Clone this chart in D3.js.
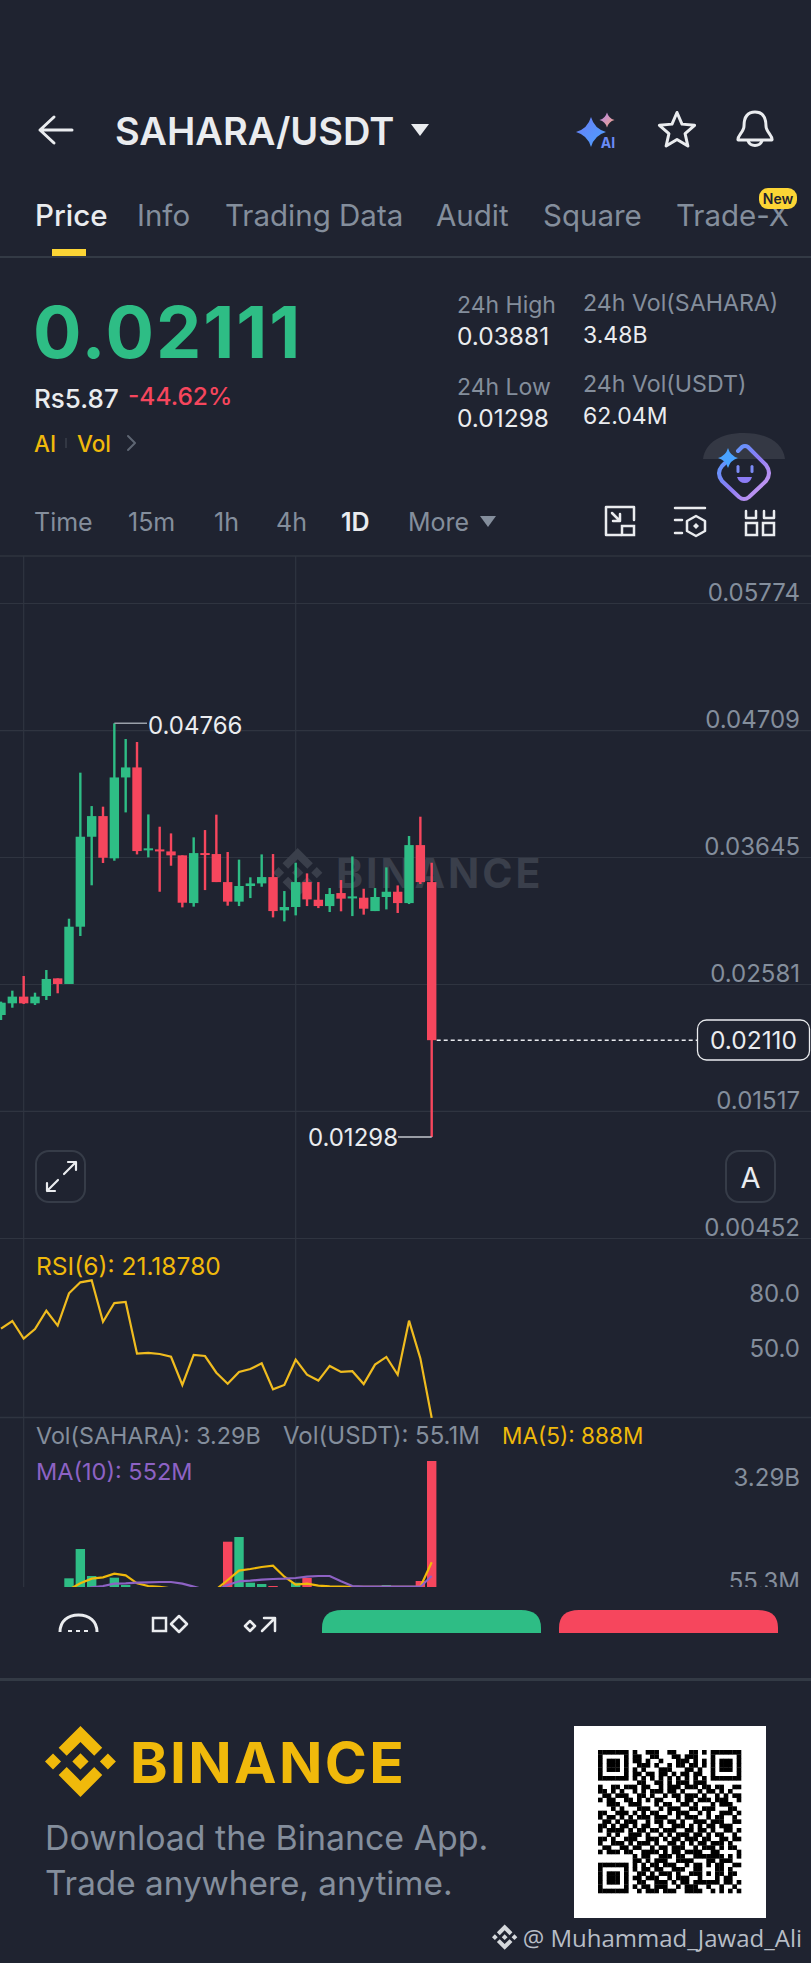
<!DOCTYPE html>
<html>
<head>
<meta charset="utf-8">
<script src="https://cdn.jsdelivr.net/npm/d3@7"></script>
<style>
html, body { margin: 0; padding: 0; background: #1f2330; }
svg { display: block; }
text { font-family: Inter, "Noto Sans", sans-serif; }
</style>
</head>
<body>
<script>
// candles, oldest first
let open = [.02321,.02419,.02475,.02419,.02480,.02628,.02581,.03061,.03815,.03988,.03634,.04312,.04396,.03701,.03709,.03692,.03659,.03259,.03678,.03670,.03435,.03271,.03402,.03424,.03477,.03198,.03226,.03435,.03287,.03234,.03343,.03298,.03304,.03192,.03310,.03354,.03259,.03745,.03435]
let high = [.02433,.02525,.02648,.02508,.02698,.02628,.03128,.04352,.04072,.04067,.04766,.04634,.04609,.04002,.03899,.03843,.03659,.03810,.03871,.04000,.03687,.03623,.03475,.03667,.03670,.03360,.03597,.03508,.03435,.03385,.03452,.03650,.03379,.03385,.03558,.03407,.03821,.03983,.03597]
let low = [.02279,.02382,.02413,.02405,.02447,.02503,.02581,.02983,.03408,.03595,.03614,.04019,.03667,.03642,.03354,.03572,.03223,.03229,.03368,.03435,.03237,.03234,.03301,.03396,.03139,.03106,.03156,.03234,.03217,.03184,.03190,.03150,.03162,.03192,.03206,.03176,.03251,.03419,.01298]
let close = [.02424,.02475,.02419,.02475,.02623,.02581,.03061,.03815,.03988,.03639,.04312,.04396,.03695,.03718,.03692,.03659,.03262,.03678,.03662,.03435,.03271,.03402,.03424,.03477,.03192,.03226,.03435,.03290,.03234,.03335,.03296,.03315,.03212,.03310,.03354,.03259,.03745,.03435,.02110]

let rsi = [69.8,74.0,64.4,69.6,79.6,71.5,89.1,95.1,96.2,73.6,83.8,84.4,56.2,56.6,56.0,54.5,39.1,55.5,54.9,45.8,39.8,46.2,47.8,50.9,36.7,39.1,52.9,44.7,41.5,49.5,46.2,46.6,39.6,50.2,54.4,44.7,74.2,53.6,21.18]

// volume and its moving averages, in millions
let volume = [40,40,40,40,40,40,343,1078,401,60,359,175,60,50,50,50,50,50,50,60,1261,1379,233,200,150,60,233,351,50,50,50,50,50,50,175,50,150,276,3285]
let ma5 = [40,40,40,40,40,40,60,217,334,368,460,418,217,150,130,90,60,60,60,67,301,535,577,627,660,384,184,209,159,140,135,130,130,130,130,130,130,130,744]
let ma10 = [40,40,40,40,40,40,40,40,118,150,209,217,234,242,251,251,209,134,60,50,176,268,284,309,326,334,351,384,401,401,268,150,133,133,133,133,133,133,401]

let priceTicks = [.05774,.04709,.03645,.02581,.01517,.00452]
let rsiTicks = [80,50]
let volTicks = [3285,55.3]
let volTickLabels = ['3.29B','55.3M']
let gridCandles = [2,26]

let tabs = ['Price','Info','Trading Data','Audit','Square','Trade-X']
let tabX = [35,137,225,436,543,676]
let intervals = ['Time','15m','1h','4h','1D','More']
let intervalX = [34,128,214,276,341,408]

// QR modules as printed, 1 is black
let qrRows = [
  '111111101001110011000110101111111',
  '100000101100110001101110001000001',
  '101110101101001000111010101011101',
  '101110100111010010110110101011101',
  '101110101010001110001101001011101',
  '100000101101101101011011001000001',
  '111111101010101010101010101111111',
  '000000000110011010111011100000000',
  '100110111011001011101110110110011',
  '110101001010111011010001011010100',
  '011011100110100101101110100101011',
  '101100110101011000101101110111001',
  '001110011100010110011010001011100',
  '000101000111001011100110111000110',
  '110011101010110010111001010011101',
  '101101010111011100101110010110010',
  '011010111001011011010011101110011',
  '110101101011001001110101011011100',
  '101111010110110111001101101001101',
  '001010011101001010111011010110010',
  '110100111001110101101110110011011',
  '100111010111010011010101101110100',
  '011001101100101101110010111010110',
  '101110110011110101101111001100001',
  '000000001011001110110011111110101',
  '000000001101011100111100011011100',
  '111111101010110111001011010110011',
  '100000101011011001110011000110100',
  '101110100110101110100111010110110',
  '101110101101110010111001000101100',
  '101110100110011101011011111101101',
  '100000101011011100101110010010010',
  '111111100101110111001111001010101'
]

let bg = '#1f2330'
let green = '#2ebd85'
let red = '#f6465d'
let yellow = '#f0b90b'
let purple = '#8d62c4'
let grey = '#848e9c'
let white = '#eaecef'
let gridColor = '#2f3440'
let logoPath = 'M38.73 53.2l24.59-24.58 24.6 24.6 14.3-14.31L63.32 0 24.42 38.9z M0 63.31l14.3-14.31 14.31 14.31-14.31 14.3z M38.73 73.41l24.59 24.59 24.6-24.6 14.31 14.29-38.9 38.91-38.91-38.88-.02-.02z M98 63.32l14.3-14.31 14.31 14.3-14.31 14.31z M77.83 63.3L63.32 48.78 52.59 59.51l-1.24 1.23-2.54 2.54 14.51 14.5 14.51-14.47z'

let svg = d3.select('body').append('svg')
    .attr('width', 811)
    .attr('height', 1963)
svg.append('rect').attr('width', 811).attr('height', 1963).attr('fill', bg)

let defs = svg.append('defs')
defs.append('clipPath').attr('id', 'rsiClip').append('rect')
    .attr('x', 0).attr('y', 1238).attr('width', 811).attr('height', 180)
defs.append('clipPath').attr('id', 'volClip').append('rect')
    .attr('x', 0).attr('y', 1418).attr('width', 811).attr('height', 169)

function gradient(id, stops) {
    let g = defs.append('linearGradient').attr('id', id)
        .attr('x1', 0).attr('y1', 0).attr('x2', 1).attr('y2', 1)
    stops.forEach((c, i) => g.append('stop')
        .attr('offset', i / (stops.length - 1)).attr('stop-color', c))
}
gradient('sparkBlue', ['#6b7cf6', '#4aa3ff'])
gradient('sparkPink', ['#b184f0', '#f5a97f'])
gradient('robot', ['#4aa3ff', '#8c7cf5', '#d9a0ee'])

function label(x, y, text, size, fill, weight, anchor) {
    return svg.append('text')
        .attr('x', x).attr('y', y)
        .attr('dominant-baseline', 'central')
        .attr('font-size', size)
        .attr('font-weight', weight || 400)
        .attr('text-anchor', anchor || 'start')
        .attr('fill', fill)
        .text(text)
}

function outline(d, color, width) {
    return svg.append('path').attr('d', d)
        .attr('fill', 'none')
        .attr('stroke', color || white)
        .attr('stroke-width', width || 3)
        .attr('stroke-linecap', 'round')
        .attr('stroke-linejoin', 'round')
}

function solid(d, color) {
    return svg.append('path').attr('d', d).attr('fill', color)
}

function sparkle(cx, cy, r) {
    let k = r * 0.22
    return `M${cx} ${cy - r}Q${cx + k} ${cy - k} ${cx + r} ${cy}Q${cx + k} ${cy + k} ${cx} ${cy + r}Q${cx - k} ${cy + k} ${cx - r} ${cy}Q${cx - k} ${cy - k} ${cx} ${cy - r}Z`
}

function diamond(cx, cy, r) {
    return `M${cx} ${cy - r}L${cx + r} ${cy}L${cx} ${cy + r}L${cx - r} ${cy}Z`
}

function drawHeader() {
    outline('M54 117L40 130L54 143M40 130H72', white, 3)
    label(115, 131, 'SAHARA/USDT', 38, white, 600)
    solid('M411 124H429L420 136Z', white)

    solid(sparkle(591, 132, 15), 'url(#sparkBlue)')
    solid(sparkle(607, 120, 7.5), 'url(#sparkPink)')
    label(608, 142, 'AI', 14, '#6b8cf6', 700, 'middle')

    let star = d3.lineRadial().curve(d3.curveLinearClosed)(
        d3.range(10).map(i => [i * Math.PI / 5, i % 2 ? 8.5 : 18.5]))
    outline(star, white, 3).attr('transform', 'translate(677,131)')
    outline('M755 112C746 112 744 119 744 126C744 132 737 136 738 140H772C773 136 766 132 766 126C766 119 764 112 755 112Z M748 141A7.5 7 0 0 0 762 141', white, 3)

    tabs.forEach((t, i) => label(tabX[i], 215, t, 29.5, i == 0 ? white : grey, i == 0 ? 500 : 400))
    svg.append('rect').attr('x', 0).attr('y', 256).attr('width', 811).attr('height', 2).attr('fill', '#333a45')
    svg.append('rect').attr('x', 52).attr('y', 249).attr('width', 34).attr('height', 7).attr('fill', '#fcd535')
    svg.append('rect').attr('x', 759).attr('y', 188).attr('width', 38).attr('height', 21).attr('rx', 9).attr('fill', '#fcd535')
    label(778, 198.5, 'New', 14, '#1f2330', 600, 'middle')
}

function drawTicker() {
    label(33, 331, '0.02111', 72, green, 700).attr('letter-spacing', 2)
    label(34, 398, 'Rs5.87', 26, white, 500)
    label(128, 396, '-44.62%', 24.5, red, 500)
    label(34, 443, 'AI', 22.5, yellow, 500)
    svg.append('rect').attr('x', 65.5).attr('y', 438).attr('width', 1).attr('height', 10).attr('fill', '#474d57')
    label(77, 443, 'Vol', 22.5, yellow, 500)
    outline('M128 436L135 443L128 450', '#5e6673', 2)

    label(457, 305, '24h High', 23, grey)
    label(457, 336, '0.03881', 24.5, white)
    label(583, 303, '24h Vol(SAHARA)', 23.2, grey)
    label(583, 335, '3.48B', 23, white)
    label(457, 387, '24h Low', 23, grey)
    label(457, 418, '0.01298', 24.5, white)
    label(583, 384, '24h Vol(USDT)', 23.2, grey)
    label(583, 416, '62.04M', 23, white)

    // robot button
    solid('M703 459C705 443 720 433 744 433C768 433 783 443 785 459Z', '#343844')
    outline('M738 451L742 447Q745 445 748 447L766 465Q772 473 766 481L749 497Q744 501 739 497L722 481Q716 473 722 466L725 463', 'url(#robot)', 4)
    solid(sparkle(728, 458, 10), '#4aa3ff')
    svg.append('rect').attr('x', 736.5).attr('y', 465).attr('width', 3).attr('height', 8).attr('rx', 1.5).attr('fill', '#7c8cf5')
    svg.append('rect').attr('x', 750.5).attr('y', 465).attr('width', 3).attr('height', 8).attr('rx', 1.5).attr('fill', '#7c8cf5')
    solid('M737 477H752Q750 483 745 483Q739 483 737 477Z', '#8c7cf5')

    intervals.forEach((t, i) => label(intervalX[i], 522, t, 25, t == '1D' ? white : grey, t == '1D' ? 600 : 400))
    solid('M480 516H496L488 527Z', grey)

    // chart tool icons
    outline('M621 535H606V507H634V520', white, 2.5)
    outline('M612 513L620 521M620 514V521H613', white, 2.5)
    svg.append('rect').attr('x', 622).attr('y', 526).attr('width', 12).attr('height', 9).attr('fill', 'none').attr('stroke', white).attr('stroke-width', 2.5)
    outline('M675 508H705M675 520H682M675 533H682', white, 2.5)
    outline('M696 516L705 521V531L696 536L687 531V521Z', white, 2.5)
    solid(diamond(696, 526, 3), white)
    outline('M746 511V518H756V511M764 511V518H774V511', white, 2.5)
    svg.append('rect').attr('x', 746).attr('y', 523).attr('width', 11).attr('height', 12).attr('fill', 'none').attr('stroke', white).attr('stroke-width', 2.5)
    svg.append('rect').attr('x', 763).attr('y', 523).attr('width', 11).attr('height', 12).attr('fill', 'none').attr('stroke', white).attr('stroke-width', 2.5)
    svg.append('rect').attr('x', 0).attr('y', 555).attr('width', 811).attr('height', 2).attr('fill', '#2a2f3a')
}

let x = d3.scaleLinear().domain([0, 38]).range([1, 431.7])
let y = d3.scaleLinear().domain([.00452, .05774]).range([1238, 603])
let yRsi = d3.scaleLinear().domain([50, 80]).range([1365, 1310])
let yVol = d3.scaleLinear().domain([0, 3285]).range([1592, 1461])

function drawGrid() {
    svg.selectAll('.vgrid')
        .data(gridCandles)
        .enter()
        .append('line')
        .attr('class', 'vgrid')
        .attr('x1', d => x(d)).attr('x2', d => x(d))
        .attr('y1', 556).attr('y2', 1587)
        .attr('stroke', gridColor).attr('stroke-width', 1.2)

    let axis = d3.axisLeft(y)
        .tickValues(priceTicks)
        .tickSize(811)
        .tickFormat(d3.format('.5f'))
    let g = svg.append('g').attr('transform', 'translate(811,0)').call(axis)
    g.select('.domain').remove()
    g.selectAll('.tick line').attr('stroke', gridColor).attr('stroke-width', 1.2)
    g.selectAll('.tick text')
        .attr('x', -11).attr('dy', -11)
        .attr('dominant-baseline', 'central')
        .attr('font-family', 'Inter').attr('font-size', 24)
        .attr('text-anchor', 'end').attr('fill', grey)

    svg.append('line').attr('x1', 0).attr('x2', 811).attr('y1', 1417.5).attr('y2', 1417.5)
        .attr('stroke', gridColor).attr('stroke-width', 1.5)
}

function drawWatermark() {
    solid(logoPath, '#3a3f4b').attr('transform', 'translate(273,848) scale(.39)')
    label(336, 873, 'BINANCE', 41, '#3a3f4b', 700).attr('letter-spacing', 2.9)
}

function drawCandles() {
    let idx = d3.range(open.length)
    let color = i => close[i] >= open[i] ? green : red
    svg.selectAll('.wick')
        .data(idx)
        .enter()
        .append('rect')
        .attr('class', 'wick')
        .attr('x', i => x(i) - 1.2)
        .attr('width', 2.4)
        .attr('y', i => y(high[i]))
        .attr('height', i => y(low[i]) - y(high[i]))
        .attr('fill', color)
    svg.selectAll('.body')
        .data(idx)
        .enter()
        .append('rect')
        .attr('class', 'body')
        .attr('x', i => x(i) - 4.7)
        .attr('width', 9.4)
        .attr('y', i => y(Math.max(open[i], close[i])))
        .attr('height', i => Math.max(1.8, Math.abs(y(open[i]) - y(close[i]))))
        .attr('fill', color)

    let hi = d3.max(high), lo = d3.min(low)
    let hiI = high.indexOf(hi), loI = low.indexOf(lo)
    svg.append('line').attr('x1', x(hiI)).attr('x2', 147).attr('y1', y(hi)).attr('y2', y(hi))
        .attr('stroke', '#9aa0a9').attr('stroke-width', 1.5)
    label(148, 725, hi.toFixed(5), 24, white)
    svg.append('line').attr('x1', 398).attr('x2', x(loI)).attr('y1', y(lo)).attr('y2', y(lo))
        .attr('stroke', '#c3c7cd').attr('stroke-width', 1.5)
    label(398, 1137, lo.toFixed(5), 24, white, 400, 'end')

    let last = close[close.length - 1]
    svg.append('line').attr('x1', x(38) + 5).attr('x2', 697).attr('y1', y(last)).attr('y2', y(last))
        .attr('stroke', white).attr('stroke-width', 1.5).attr('stroke-dasharray', '4 3')
    svg.append('rect').attr('x', 697.5).attr('y', 1020).attr('width', 112).attr('height', 40).attr('rx', 9)
        .attr('fill', bg).attr('stroke', white).attr('stroke-width', 1.3)
    label(753.5, 1040, last.toFixed(5), 24.5, white, 400, 'middle')

    // corner buttons
    svg.append('rect').attr('x', 36).attr('y', 1151).attr('width', 49).attr('height', 51).attr('rx', 13)
        .attr('fill', 'none').attr('stroke', '#363c48').attr('stroke-width', 2)
    outline('M64 1174L76 1162M68 1162H76V1170M58 1180L47 1191M47 1183V1191H55', white, 2.2)
    svg.append('rect').attr('x', 726).attr('y', 1151).attr('width', 49).attr('height', 51).attr('rx', 13)
        .attr('fill', 'none').attr('stroke', '#363c48').attr('stroke-width', 2)
    label(750.5, 1177, 'A', 29, white, 400, 'middle')
}

function drawRsi() {
    let axis = d3.axisLeft(yRsi).tickValues(rsiTicks).tickSize(0).tickFormat(d3.format('.1f'))
    let g = svg.append('g').attr('transform', 'translate(811,0)').call(axis)
    g.select('.domain').remove()
    g.selectAll('.tick text')
        .attr('x', -11).attr('dy', -17)
        .attr('dominant-baseline', 'central')
        .attr('font-family', 'Inter').attr('font-size', 24)
        .attr('text-anchor', 'end').attr('fill', grey)

    label(36, 1266, 'RSI(6): 21.18780', 24.6, yellow)
    let line = d3.line().x((d, i) => x(i)).y(d => yRsi(d))
    svg.append('path').datum(rsi)
        .attr('clip-path', 'url(#rsiClip)')
        .attr('d', line)
        .attr('fill', 'none').attr('stroke', '#f0bc1f').attr('stroke-width', 2.2)
}

function drawVolume() {
    label(36, 1435, 'Vol(SAHARA): 3.29B', 23.3, grey)
    label(283, 1435, 'Vol(USDT): 55.1M', 24, grey)
    label(502, 1435, 'MA(5): 888M', 22.6, yellow)
    label(36, 1471, 'MA(10): 552M', 23.5, purple)

    let pane = svg.append('g').attr('clip-path', 'url(#volClip)')
    pane.selectAll('.vol')
        .data(volume)
        .enter()
        .append('rect')
        .attr('class', 'vol')
        .attr('x', (d, i) => x(i) - 4.7)
        .attr('width', 9.4)
        .attr('y', d => yVol(d))
        .attr('height', d => yVol(0) - yVol(d))
        .attr('fill', (d, i) => close[i] >= open[i] ? green : red)

    let line = d3.line().x((d, i) => x(i)).y(d => yVol(d))
    pane.append('path').datum(ma5).attr('d', line)
        .attr('fill', 'none').attr('stroke', yellow).attr('stroke-width', 2.2)
    pane.append('path').datum(ma10).attr('d', line)
        .attr('fill', 'none').attr('stroke', purple).attr('stroke-width', 2.2)

    let axis = d3.axisLeft(yVol).tickValues(volTicks).tickSize(0)
        .tickFormat((d, i) => volTickLabels[i])
    let g = pane.append('g').attr('transform', 'translate(811,0)').call(axis)
    g.select('.domain').remove()
    g.selectAll('.tick text')
        .attr('x', -11).attr('dy', (d, i) => i == 0 ? 16 : -9)
        .attr('dominant-baseline', 'central')
        .attr('font-family', 'Inter').attr('font-size', 24)
        .attr('text-anchor', 'end').attr('fill', grey)
}

function drawToolbar() {
    outline('M60 1632C60 1621 68 1615 78.5 1615C89 1615 97 1621 97 1632', white, 3).attr('stroke-linecap', 'butt')
    svg.append('line').attr('x1', 68).attr('x2', 89).attr('y1', 1631).attr('y2', 1631)
        .attr('stroke', white).attr('stroke-width', 2).attr('stroke-dasharray', '4 4')
    svg.append('rect').attr('x', 153).attr('y', 1618).attr('width', 13).attr('height', 13)
        .attr('fill', 'none').attr('stroke', white).attr('stroke-width', 2.5)
    outline(diamond(179, 1624, 8), white, 2.5)
    outline(diamond(250, 1626, 5), white, 2.5)
    outline('M262 1631L275 1618M264 1618H275V1631', white, 2.5)

    solid('M322 1633V1628Q322 1610 342 1610H521Q541 1610 541 1628V1633Z', green)
    solid('M559 1633V1628Q559 1610 579 1610H758Q778 1610 778 1628V1633Z', red)
    svg.append('rect').attr('x', 0).attr('y', 1678).attr('width', 811).attr('height', 3).attr('fill', '#333a45')
}

function drawFooter() {
    solid(logoPath, yellow).attr('transform', 'translate(45,1726) scale(.56)')
    label(130, 1762, 'BINANCE', 57, yellow, 700).attr('letter-spacing', 2.3)
    label(45, 1837, 'Download the Binance App.', 33.9, grey)
    label(45, 1883, 'Trade anywhere, anytime.', 33.3, grey)

    svg.append('rect').attr('x', 574).attr('y', 1726).attr('width', 192).attr('height', 192).attr('fill', '#fff')
    let qr = d3.scaleBand().domain(d3.range(qrRows.length)).range([598, 741])
    let qrY = d3.scaleBand().domain(d3.range(qrRows.length)).range([1750, 1893])
    let cells = []
    qrRows.forEach((row, r) => row.split('').forEach((c, k) => {
        if (c == '1') cells.push({ r: r, k: k })
    }))
    svg.selectAll('.qr')
        .data(cells)
        .enter()
        .append('rect')
        .attr('class', 'qr')
        .attr('x', d => qr(d.k))
        .attr('y', d => qrY(d.r))
        .attr('width', qr.bandwidth() + .3)
        .attr('height', qrY.bandwidth() + .3)
        .attr('fill', '#000')

    solid(logoPath, '#d5d8dc').attr('transform', 'translate(492,1924.5) scale(.2)')
    label(802, 1937, '@ Muhammad_Jawad_Ali', 24, '#b7bdc6', 400, 'end')
        .style('font-family', '"Open Sans"')
}

drawHeader()
drawTicker()
drawGrid()
drawWatermark()
drawCandles()
drawRsi()
drawVolume()
drawToolbar()
drawFooter()
</script>
</body>
</html>
